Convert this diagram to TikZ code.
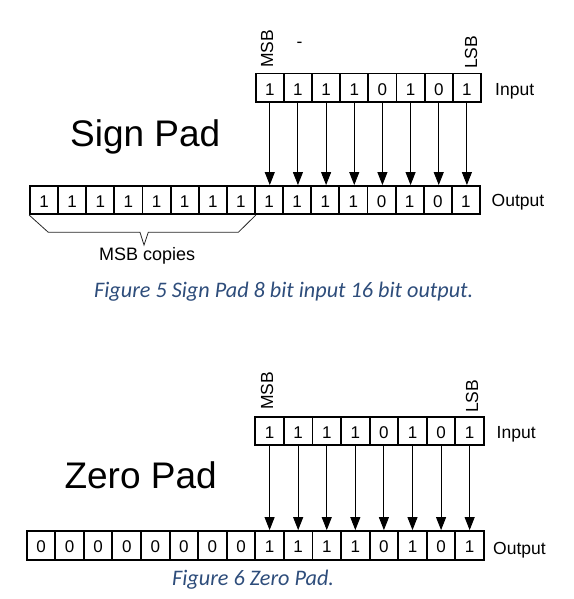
\documentclass[tikz,border=0pt]{standalone}
\usepackage{fontspec}
\setmainfont{Liberation Sans}
\newfontfamily\capfont{Carlito}
\usetikzlibrary{arrows.meta}
\definecolor{capblue}{HTML}{2E4D7B}
\begin{document}
\begin{tikzpicture}[x=1pt, y=-1pt,
  bitcell/.style n args={2}{draw, line width=1.9pt, minimum width=#1, minimum height=#2,
     inner sep=0pt, text height=15pt, text depth=0pt, font=\fontsize{17}{20}\selectfont},
  tcellin/.style={bitcell={28.16pt}{28.5pt}},
  tcellout/.style={bitcell={28.125pt}{28pt}},
  bcellin/.style={bitcell={28.58pt}{28.3pt}},
  bcellout/.style={bitcell={28.58pt}{28.5pt}},
  lab/.style={inner sep=0pt, font=\fontsize{17.5}{20}\selectfont},
  title/.style={inner sep=0pt, anchor=base west, font=\fontsize{37}{40}\selectfont},
  caption/.style={inner sep=0pt, anchor=base west, text=capblue, font=\capfont\itshape\fontsize{22.2}{24}\selectfont},
  bitarrow/.style={line width=0.9pt, -{Triangle[length=13pt, width=10pt]}},
  brace/.style={line width=0.8pt, black!85, line join=miter}
]
\useasboundingbox (0,0) rectangle (573,599);

% ---------- Sign Pad ----------
\foreach \b [count=\k] in {1,1,1,1,0,1,0,1}
  \node[tcellin] (ti\k) at ({255.7+28.16*(\k-0.5)}, 87.75) {\b};
\foreach \b [count=\k] in {1,1,1,1,1,1,1,1,1,1,1,1,0,1,0,1}
  \node[tcellout] (to\k) at ({30+28.125*(\k-0.5)}, 200) {\b};
\foreach \k [evaluate=\k as \j using int(\k+8)] in {1,...,8}
  \draw[bitarrow] (ti\k.south) -- (ti\k.south |- to\j.north);

\node[lab, rotate=90, anchor=base west] (tmsb) at (273, 68) {MSB};
\node[lab, rotate=90, anchor=base west] (tlsb) at (477, 69) {LSB};
\node[lab] (tdash) at (299.5, 44.7) {-};
\node[lab, anchor=base west] (tinput) at (495, 95.7) {Input};
\node[lab, anchor=base west] (toutput) at (491.5, 206.5) {Output};
\node[title] (tsign) at (70, 146.7) {Sign Pad};

\coordinate (b1) at (48.3, 232.3);
\coordinate (b2) at (140, 232.3);
\coordinate (b3) at (144, 245);
\coordinate (b4) at (148.3, 232.3);
\coordinate (b5) at (238.3, 232.3);
\draw[brace] (to1.south west) -- (b1) -- (b2) -- (b3) -- (b4) -- (b5) -- (to8.south east);
\node[lab, anchor=base west, font=\fontsize{18}{20}\selectfont] (copies) at (99, 260) {MSB copies};

\node[caption] (cap5) at (94, 297) {Figure 5 Sign Pad 8 bit input 16 bit output.};

% ---------- Zero Pad ----------
\foreach \b [count=\k] in {1,1,1,1,0,1,0,1}
  \node[bcellin] (bi\k) at ({255.3+28.58*(\k-0.5)}, 430.8) {\b};
\foreach \b [count=\k] in {0,0,0,0,0,0,0,0,1,1,1,1,0,1,0,1}
  \node[bcellout] (bo\k) at ({26.7+28.58*(\k-0.5)}, 545.3) {\b};
\foreach \k [evaluate=\k as \j using int(\k+8)] in {1,...,8}
  \draw[bitarrow] (bi\k.south) -- (bi\k.south |- bo\j.north);

\node[lab, rotate=90, anchor=base west] (bmsb) at (273, 410) {MSB};
\node[lab, rotate=90, anchor=base west] (blsb) at (478, 413) {LSB};
\node[lab, anchor=base west] (binput) at (496.5, 438.3) {Input};
\node[lab, anchor=base west] (boutput) at (493, 554) {Output};
\node[title] (bzero) at (64.3, 488.3) {Zero Pad};

\node[caption] (cap6) at (172, 585) {Figure 6 Zero Pad.};
\end{tikzpicture}
\end{document}
